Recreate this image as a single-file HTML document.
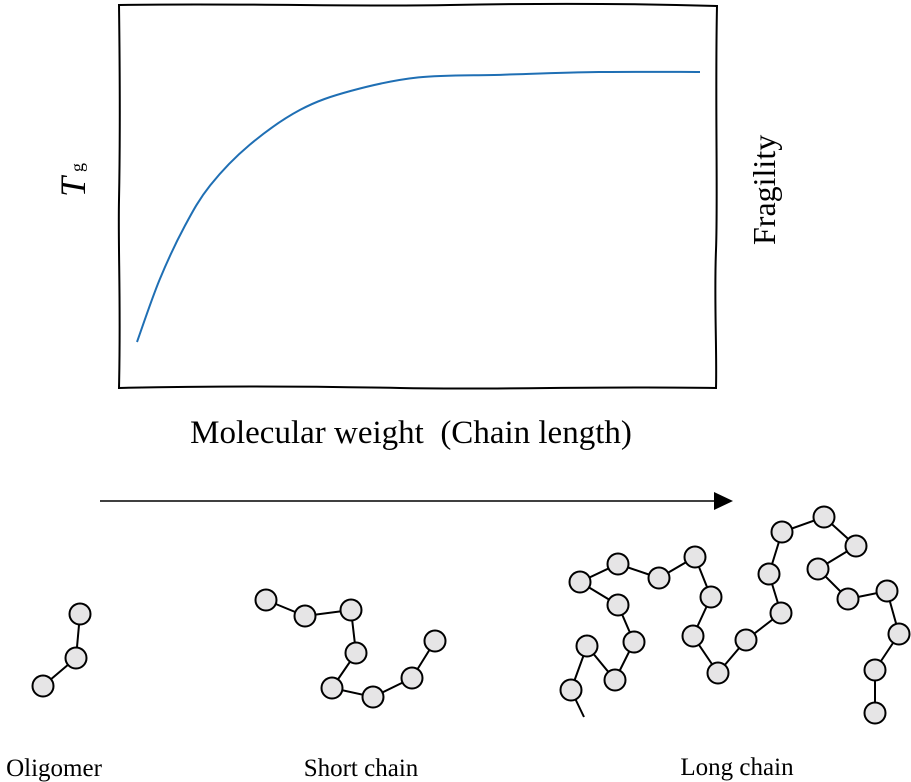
<!DOCTYPE html>
<html><head><meta charset="utf-8"><style>
html,body{margin:0;padding:0;background:#fff;}
svg{display:block;font-family:"Liberation Serif",serif;}
</style></head><body>
<svg id="c" width="911" height="782" viewBox="0 0 911 782" xmlns="http://www.w3.org/2000/svg">
<path d="M119,5 C250,3 350,7 450,5 S650,4 717,6 C715,100 718,200 716,250 S717,350 716,388 C600,386 500,390 400,388 S200,386 119,388 C121,300 118,250 119,200 S120,80 119,5 Z" fill="none" stroke="#000" stroke-width="2"/>
<g id="curve"></g>
<text transform="translate(85,197) rotate(-90)" font-size="36" font-style="italic">T<tspan font-size="18" font-style="normal" dy="-2" dx="5">g</tspan></text>
<text transform="translate(775,245) rotate(-90)" font-size="32">Fragility</text>
<text x="411" y="443" font-size="33" text-anchor="middle">Molecular weight&#160; (Chain length)</text>
<line x1="100" y1="501" x2="716" y2="501" stroke="#000" stroke-width="1.5"/>
<polygon points="714,492 733,501 714,510" fill="#000"/>
<g id="chains"></g>
<text x="54" y="776" font-size="25" text-anchor="middle">Oligomer</text>
<text x="361" y="776" font-size="25" text-anchor="middle">Short chain</text>
<text x="737" y="775" font-size="25" text-anchor="middle">Long chain</text>
</svg>
<script>
const xVals=[0,0.04,0.085,0.13,0.2,0.29,0.38,0.5,0.65,0.82,1];
const yVals=[0,0.23,0.43,0.58,0.73,0.86,0.93,0.98,0.99,1,1];
const NS="http://www.w3.org/2000/svg";
function sx(v){return 137+v*563;}
function sy(v){return 342-v*270;}
const pts=xVals.map((x,i)=>[sx(x),sy(yVals[i])]);
let d="M"+pts[0][0]+","+pts[0][1];
for(let i=0;i<pts.length-1;i++){const p0=pts[i-1]||pts[i],p1=pts[i],p2=pts[i+1],p3=pts[i+2]||p2;
d+=" C"+(p1[0]+(p2[0]-p0[0])/6)+","+(p1[1]+(p2[1]-p0[1])/6)+" "+(p2[0]-(p3[0]-p1[0])/6)+","+(p2[1]-(p3[1]-p1[1])/6)+" "+p2[0]+","+p2[1];}
const line=document.createElementNS(NS,"path");


line.setAttribute("d",d);line.setAttribute("fill","none");line.setAttribute("stroke","#1f6fb4");line.setAttribute("stroke-width","2");
document.getElementById("curve").appendChild(line);

const oligomer=[[80,614],[76,658],[43,686]];
const shortChain=[[266,600],[305,616],[351,610],[356,653],[332,688],[373,697],[412,678],[435,641]];
const longChain=[[584,717],[571,690],[587,646],[615,680],[634,642],[618,605],[580,582],[618,564],[659,578],[695,557],[711,597],[693,636],[718,673],[746,640],[781,613],[769,574],[782,532],[824,517],[856,546],[818,569],[848,599],[887,591],[899,634],[875,670],[875,713]];
const g=document.getElementById("chains");
function draw(arr,name,skipFirst){
 const grp=document.createElementNS(NS,"g");
 
 
 const pl=document.createElementNS(NS,"polyline");
 
 
 pl.setAttribute("points",arr.map(p=>p.join(",")).join(" "));
 pl.setAttribute("fill","none");pl.setAttribute("stroke","#000");pl.setAttribute("stroke-width","2");
 grp.appendChild(pl);
 arr.forEach((p,i)=>{if(skipFirst&&i===0)return;
  const c=document.createElementNS(NS,"circle");
  
  
  c.setAttribute("cx",p[0]);c.setAttribute("cy",p[1]);c.setAttribute("r","10.5");
  c.setAttribute("fill","#e6e5e6");c.setAttribute("stroke","#000");c.setAttribute("stroke-width","2");
  grp.appendChild(c);});
 g.appendChild(grp);
}
draw(oligomer,"oligomer-chain",false);
draw(shortChain,"short-chain",false);
draw(longChain,"long-chain",true);
</script>
</body></html>
